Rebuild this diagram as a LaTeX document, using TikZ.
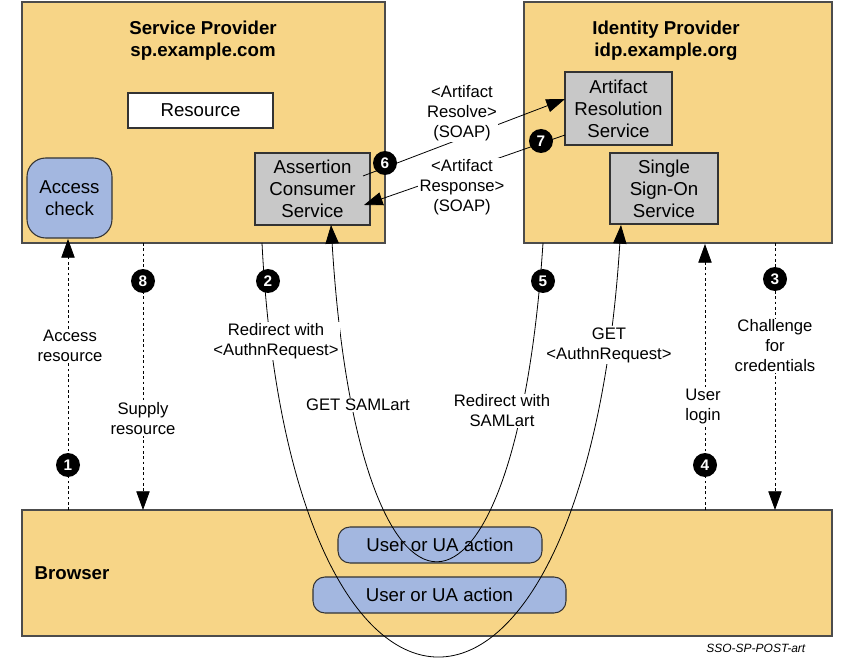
\documentclass[tikz,border=0pt]{standalone}
\usepackage{fontspec}
\setmainfont{Liberation Sans}
\usetikzlibrary{arrows.meta}
\definecolor{org}{HTML}{F7D587}
\definecolor{blu}{HTML}{A3B7E0}
\definecolor{gry}{HTML}{C8C8C8}
\begin{document}
\begin{tikzpicture}[x=0.75pt,y=-0.75pt,
 big/.style={draw=black!70,fill=org,line width=0.8pt},
 svc/.style={draw=black!80,fill=gry,line width=0.8pt,align=center,font=\fontsize{14}{16.5}\selectfont,inner sep=0pt},
 ua/.style={draw=black!80,fill=blu,rounded corners=9pt,line width=0.8pt,align=center,font=\fontsize{14}{16.5}\selectfont,inner sep=0pt},
 lab/.style={fill=white,align=center,font=\fontsize{12.5}{15}\selectfont,inner sep=1pt},
 num/.style={circle,fill=black,text=white,font=\bfseries\fontsize{11.5}{12}\selectfont,minimum size=18pt,inner sep=0pt},
 ttl/.style={align=center,font=\bfseries\fontsize{14}{16.5}\selectfont},
 arr/.style={-{Triangle[length=14pt,width=10pt]},line width=0.6pt},
 dot/.style={arr,dash pattern=on 2pt off 2pt}]
\useasboundingbox (0,0) rectangle (865,663);
% big boxes
\node[big,minimum width=363*0.75pt,minimum height=241*0.75pt,inner sep=0pt] (sp) at (203.5,122.5) {};
\node[big,minimum width=308*0.75pt,minimum height=241*0.75pt,inner sep=0pt] (idp) at (678,122.5) {};
\node[big,minimum width=810*0.75pt,minimum height=126*0.75pt,inner sep=0pt] (br) at (427,573) {};
\node[ttl] (spt) at (203,41) {Service Provider\\sp.example.com};
\node[ttl] (idpt) at (666,41) {Identity Provider\\idp.example.org};
\node[font=\bfseries\fontsize{14}{16.5}\selectfont] (brt) at (72,573) {Browser};
\node[font=\itshape\fontsize{9}{10}\selectfont,anchor=east] (tag) at (810,648) {SSO-SP-POST-art};
% inner boxes
\node[svc,fill=white,minimum width=145*0.75pt,minimum height=35*0.75pt] (res) at (200.5,110.5) {Resource};
\node[ua,minimum width=85*0.75pt,minimum height=80*0.75pt,rounded corners=14pt] (acc) at (69.5,198) {Access\\check};
\node[svc,minimum width=115*0.75pt,minimum height=72*0.75pt] (acs) at (312.5,189) {Assertion\\Consumer\\Service};
\node[svc,minimum width=107*0.75pt,minimum height=73*0.75pt] (ars) at (618.5,108.5) {Artifact\\Resolution\\Service};
\node[svc,minimum width=108*0.75pt,minimum height=71*0.75pt] (sso) at (664,188.5) {Single\\Sign-On\\Service};
\node[ua,minimum width=204*0.75pt,minimum height=36*0.75pt] (ua1) at (440,545) {User or UA action};
\node[ua,minimum width=253*0.75pt,minimum height=36*0.75pt] (ua2) at (439.5,595) {User or UA action};
% coordinates
\coordinate (a1) at (68,510); \coordinate (a1e) at (68,239);
\coordinate (s8) at (143,243); \coordinate (s8e) at (143,510);
\coordinate (u4) at (705,510); \coordinate (u4e) at (705,244);
\coordinate (c3) at (775,243); \coordinate (c3e) at (775,510);
\coordinate (r2) at (262,243); \coordinate (g2) at (621,225);
\coordinate (r5) at (543,243); \coordinate (g5) at (331,225);
\coordinate (s6) at (363,176); \coordinate (e6) at (565,99);
\coordinate (s7) at (565,135); \coordinate (e7) at (364,205);
% connectors
\draw[dot] (a1) -- (a1e);
\draw[dot] (s8) -- (s8e);
\draw[dot] (u4) -- (u4e);
\draw[dot] (c3) -- (c3e);
\draw[arr] (r2) .. controls (290,795) and (585,795) .. (g2);
\draw[arr] (r5) .. controls (515,668) and (358,668) .. (g5);
\draw[arr] (s6) -- (e6);
\draw[arr] (s7) -- (e7);
% labels
\node[lab] (l6) at (462,113) {<Artifact\\Resolve>\\(SOAP)};
\node[lab] (l7) at (462,187) {<Artifact\\Response>\\(SOAP)};
\node[lab] (l1) at (70,346) {Access\\resource};
\node[lab] (l8) at (143,419) {Supply\\resource};
\node[lab] (l2) at (276,341) {Redirect with\\<AuthnRequest>};
\node[lab] (lg) at (358,405) {GET SAMLart};
\node[lab] (l5) at (502,411) {Redirect with\\SAMLart};
\node[lab] (lga) at (609,345) {GET\\<AuthnRequest>};
\node[lab] (l4) at (703,406) {User\\login};
\node[lab] (l3) at (775,346) {Challenge\\for\\credentials};
% numbers
\node[num] (n1) at (68,465) {1};
\node[num] (n8) at (143,281) {8};
\node[num] (n2) at (268,281) {2};
\node[num] (n5) at (543,281) {5};
\node[num] (n3) at (775,279) {3};
\node[num] (n4) at (705,465) {4};
\node[num] (n6) at (385,163) {6};
\node[num] (n7) at (541,141) {7};
\end{tikzpicture}
\end{document}
